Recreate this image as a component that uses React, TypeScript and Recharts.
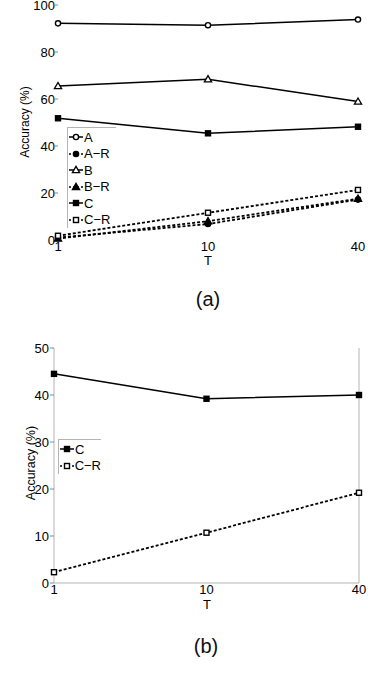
import React from 'react';
import { LineChart, Line, XAxis, YAxis, Legend, ReferenceLine } from 'recharts';

// ---- data ----
const tLabels = ['1', '10', '40'];
const aValues = [92.2, 91.4, 93.8];
const aRValues = [1.0, 6.8, 17.2];
const bValues = [65.5, 68.4, 58.9];
const bRValues = [0.6, 8.0, 17.6];
const cValues = [51.8, 45.4, 48.2];
const cRValues = [1.8, 11.6, 21.3];
const cValuesB = [44.5, 39.2, 40.0];
const cRValuesB = [2.3, 10.7, 19.2];
const yTicksA = [0, 20, 40, 60, 80, 100];
const yTicksB = [0, 10, 20, 30, 40, 50];

const dataA = tLabels.map((t, i) => ({
  T: t,
  A: aValues[i],
  AR: aRValues[i],
  B: bValues[i],
  BR: bRValues[i],
  C: cValues[i],
  CR: cRValues[i],
}));
const dataB = tLabels.map((t, i) => ({ T: t, C: cValuesB[i], CR: cRValuesB[i] }));

type Shape = 'circle' | 'triangle' | 'square';
interface SeriesCfg { key: string; name: string; shape: Shape; dashed: boolean; fill: string }

const seriesA: SeriesCfg[] = [
  { key: 'A', name: 'A', shape: 'circle', dashed: false, fill: '#fff' },
  { key: 'AR', name: 'A\u2212R', shape: 'circle', dashed: true, fill: '#000' },
  { key: 'B', name: 'B', shape: 'triangle', dashed: false, fill: '#fff' },
  { key: 'BR', name: 'B\u2212R', shape: 'triangle', dashed: true, fill: '#000' },
  { key: 'C', name: 'C', shape: 'square', dashed: false, fill: '#000' },
  { key: 'CR', name: 'C\u2212R', shape: 'square', dashed: true, fill: '#fff' },
];
const seriesB: SeriesCfg[] = [
  { key: 'C', name: 'C', shape: 'square', dashed: false, fill: '#000' },
  { key: 'CR', name: 'C\u2212R', shape: 'square', dashed: true, fill: '#fff' },
];

const FONT = '"Liberation Sans", Arial, sans-serif';
const GRID = '#b4b4b4';

function Mark({ cx, cy, shape, fill }: { cx?: number; cy?: number; shape: Shape; fill: string }) {
  if (cx == null || cy == null) return null;
  if (shape === 'circle')
    return <circle cx={cx} cy={cy} r={2.6} fill={fill} stroke="#000" strokeWidth={1.4} />;
  if (shape === 'triangle')
    return (
      <polygon
        points={`${cx},${cy - 3.6} ${cx - 3.6},${cy + 2.6} ${cx + 3.6},${cy + 2.6}`}
        fill={fill}
        stroke="#000"
        strokeWidth={1.3}
      />
    );
  return <rect x={cx - 2.5} y={cy - 2.5} width={5} height={5} fill={fill} stroke="#000" strokeWidth={1.4} />;
}

function LegendBox({ items, width }: { items: SeriesCfg[]; width: number }) {
  return (
    <div
      style={{
        borderLeft: `1px solid ${GRID}`,
        borderTop: `1px solid ${GRID}`,
        width,
        paddingTop: 1,
        fontFamily: FONT,
        fontSize: 13,
        color: '#000',
      }}
    >
      {items.map((s) => (
        <div key={s.key} style={{ display: 'flex', alignItems: 'center', height: 16.5 }}>
          <svg width={14} height={10} style={{ marginLeft: 1, marginRight: 1 }}>
            <line
              x1={0}
              y1={5}
              x2={14}
              y2={5}
              stroke="#000"
              strokeWidth={1.5}
              strokeDasharray={s.dashed ? '2 2' : undefined}
            />
            <Mark cx={7} cy={5} shape={s.shape} fill={s.fill} />
          </svg>
          <span>{s.name}</span>
        </div>
      ))}
    </div>
  );
}

function YTick(props: any) {
  const { x, y, payload } = props;
  return (
    <text x={x} y={y} textAnchor="end" dominantBaseline="central" fontFamily={FONT} fontSize={13} fill="#000">
      {String(payload.value)}
    </text>
  );
}

function renderLines(list: SeriesCfg[]) {
  return list.map((s) => (
    <Line
      key={s.key}
      dataKey={s.key}
      name={s.name}
      type="linear"
      stroke="#000"
      strokeWidth={s.dashed ? 1.8 : 1.5}
      strokeDasharray={s.dashed ? '3 2' : undefined}
      isAnimationActive={false}
      dot={(p: any) => <Mark key={`${s.key}-${p.index}`} cx={p.cx} cy={p.cy} shape={s.shape} fill={s.fill} />}
      activeDot={false}
      legendType="none"
    />
  ));
}

const tickStyle = { fontSize: 13, fill: '#000', fontFamily: FONT };

const rotLabel = (left: number, centerY: number, size: number): React.CSSProperties => ({
  position: 'absolute',
  left: left - 50,
  top: centerY - 7,
  width: 100,
  height: 14,
  lineHeight: '14px',
  textAlign: 'center',
  transform: 'rotate(-90deg)',
  fontSize: size,
  fontFamily: FONT,
  color: '#000',
  background: 'transparent',
});

const xLabel = (cx: number, top: number): React.CSSProperties => ({
  position: 'absolute',
  left: cx - 10,
  top,
  width: 20,
  textAlign: 'center',
  fontSize: 13,
  lineHeight: '13px',
  fontFamily: FONT,
  color: '#000',
});

export default function App() {
  return (
    <div
      style={{
        position: 'absolute',
        left: 0,
        top: 0,
        width: 368,
        height: 692,
        background: '#fff',
        fontFamily: FONT,
        overflow: 'hidden',
      }}
    >
      <div style={rotLabel(25, 122, 12)}>Accuracy (%)</div>
      <div style={rotLabel(31, 463, 12.5)}>Accuracy (%)</div>
      <div style={{ position: 'absolute', left: 0, top: 0 }}>
        <LineChart width={368} height={270} data={dataA} margin={{ top: 5, right: 10, left: 0, bottom: 0 }}>
          <XAxis
            dataKey="T"
            type="category"
            height={30}
            axisLine={false}
            tickLine={false}
            tickSize={1}
            tickMargin={1}
            tick={tickStyle}
            interval={0}
          />
          <XAxis
            xAxisId="top"
            dataKey="T"
            orientation="top"
            height={0}
            mirror
            axisLine={{ stroke: GRID }}
            tickLine={{ stroke: GRID }}
            tickSize={3}
            tickFormatter={() => ''}
            interval={0}
          />
          <YAxis
            width={58}
            domain={[0, 100]}
            ticks={yTicksA}
            interval={0}
            axisLine={false}
            tickLine={{ stroke: '#888' }}
            tickSize={3}
            tickMargin={0}
            tick={<YTick />}
          />
          <Legend
            layout="vertical"
            align="center"
            verticalAlign="middle"
            wrapperStyle={{ left: 67, top: 127, width: 50 }}
            content={() => <LegendBox items={seriesA} width={48} />}
          />
          {renderLines(seriesA)}
        </LineChart>
      </div>
      <div style={xLabel(208, 254)}>T</div>
      <div
        style={{
          position: 'absolute',
          left: 0,
          top: 288,
          width: 416,
          textAlign: 'center',
          fontSize: 20,
          fontFamily: FONT,
          color: '#111',
        }}
      >
        (a)
      </div>

      <div style={{ position: 'absolute', left: 0, top: 342 }}>
        <LineChart width={368} height={271} data={dataB} margin={{ top: 6, right: 9, left: 0, bottom: 0 }}>
          <XAxis
            dataKey="T"
            type="category"
            height={30}
            axisLine={{ stroke: GRID }}
            tickLine={false}
            tickSize={1}
            tickMargin={1}
            tick={tickStyle}
            interval={0}
          />
          <XAxis
            xAxisId="top"
            dataKey="T"
            orientation="top"
            height={0}
            mirror
            axisLine={{ stroke: GRID }}
            tickLine={{ stroke: GRID }}
            tickSize={3}
            tickFormatter={() => ''}
            interval={0}
          />
          <YAxis
            width={54}
            domain={[0, 50]}
            ticks={yTicksB}
            interval={0}
            axisLine={{ stroke: GRID }}
            tickLine={{ stroke: '#888' }}
            tickSize={4}
            tickMargin={1}
            tick={<YTick />}
          />
          <ReferenceLine x="40" stroke={GRID} strokeWidth={1} />
          <Legend
            layout="vertical"
            align="center"
            verticalAlign="middle"
            wrapperStyle={{ left: 58, top: 97, width: 44 }}
            content={() => <LegendBox items={seriesB} width={42} />}
          />
          {renderLines(seriesB)}
        </LineChart>
      </div>
      <div style={xLabel(207, 598)}>T</div>
      <div
        style={{
          position: 'absolute',
          left: 0,
          top: 635,
          width: 412,
          textAlign: 'center',
          fontSize: 20,
          fontFamily: FONT,
          color: '#111',
        }}
      >
        (b)
      </div>
    </div>
  );
}
